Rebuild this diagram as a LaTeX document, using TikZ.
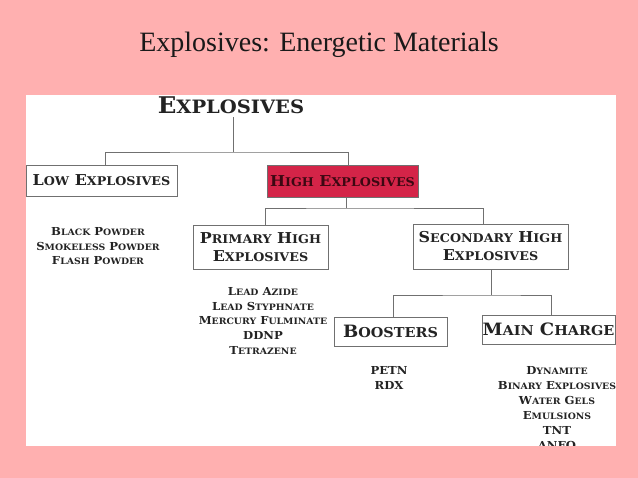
\documentclass[tikz,border=0pt]{standalone}
\usepackage{fontspec}
\setmainfont{Liberation Serif}
\newfontfamily\dvb{DejaVu Serif}[FakeStretch=1.06]
\definecolor{bgpink}{RGB}{255,176,176}
\definecolor{hired}{RGB}{212,36,72}
\definecolor{boxline}{RGB}{112,112,112}
\definecolor{ink}{RGB}{35,35,35}
\definecolor{hiink}{RGB}{60,8,18}
\makeatletter
\newcommand\smc[1]{{\fontsize{\dimexpr\f@size pt*4/5\relax}{0pt}\selectfont #1}}
\makeatother
\tikzset{
  cat/.style={draw=boxline, line width=0.9pt, inner sep=0pt, align=center, text=ink,
    font=\dvb\bfseries\fontsize{15}{18}\selectfont},
  conn/.style={draw=boxline, line width=0.9pt},
  lst/.style={anchor=north, inner sep=0pt, align=center, text=ink,
    font=\dvb\bfseries\fontsize{11}{14.8}\selectfont}
}
\begin{document}
\begin{tikzpicture}[x=1pt,y=-1pt]
\useasboundingbox (0,0) rectangle (638,478);
\fill[bgpink] (0,0) rectangle (638,478);
\node[font=\fontsize{28}{32}\selectfont, text=black!90, anchor=base] (title) at (319,52) {Explosives: Energetic Materials};
\fill[white] (26,95) rectangle (616,446);
\begin{scope}
\clip (26,95) rectangle (616,446);
\node[anchor=base, inner sep=0pt, text=ink, font=\dvb\bfseries\fontsize{23}{26}\selectfont] (expl) at (231,114) {E\smc{XPLOSIVES}};
\node[cat, minimum width=151pt, minimum height=31pt] (low) at (101.5,180.5) {L\smc{OW} E\smc{XPLOSIVES}};
\node[cat, fill=hired, text=hiink, minimum width=151pt, minimum height=32pt] (high) at (342.5,181) {H\smc{IGH} E\smc{XPLOSIVES}};
\node[cat, minimum width=135pt, minimum height=44pt] (prim) at (260.5,247) {P\smc{RIMARY} H\smc{IGH}\\E\smc{XPLOSIVES}};
\node[cat, minimum width=155pt, minimum height=45pt] (sec) at (490.5,246.5) {S\smc{ECONDARY} H\smc{IGH}\\E\smc{XPLOSIVES}};
\node[cat, font=\dvb\bfseries\fontsize{17}{20}\selectfont, minimum width=113pt, minimum height=29pt] (boost) at (390.5,331.5) {B\smc{OOSTERS}};
\node[cat, font=\dvb\bfseries\fontsize{17}{20}\selectfont, minimum width=133pt, minimum height=29pt] (main) at (548.5,329.5) {M\smc{AIN} C\smc{HARGE}};
\node[lst] (lowlist) at (98,227) {B\smc{LACK} P\smc{OWDER}\\S\smc{MOKELESS} P\smc{OWDER}\\F\smc{LASH} P\smc{OWDER}};
\node[lst] (primlist) at (263,287) {L\smc{EAD} A\smc{ZIDE}\\L\smc{EAD} S\smc{TYPHNATE}\\M\smc{ERCURY} F\smc{ULMINATE}\\DDNP\\T\smc{ETRAZENE}};
\node[lst] (boostlist) at (389,366) {PETN\\RDX};
\node[lst, font=\dvb\bfseries\fontsize{11}{15}\selectfont] (mainlist) at (557,366) {D\smc{YNAMITE}\\B\smc{INARY} E\smc{XPLOSIVES}\\W\smc{ATER} G\smc{ELS}\\E\smc{MULSIONS}\\TNT\\ANFO};
\coordinate (j1) at (233,152);
\draw[conn] ([yshift=-3pt]expl.south -| j1) -- (j1);
\draw[conn] ([xshift=3.5pt]low.north) |- (j1) -| ([xshift=5.5pt]high.north);
\coordinate (j2) at (346,208);
\draw[conn] (high.south -| j2) -- (j2);
\draw[conn] ([xshift=4.5pt]prim.north) |- (j2) -| ([xshift=-7.5pt]sec.north);
\coordinate (j3) at (491,295);
\draw[conn] (sec.south -| j3) -- (j3);
\draw[conn] ([xshift=2.5pt]boost.north) |- (j3) -| ([xshift=2.5pt]main.north);
\end{scope}
\end{tikzpicture}
\end{document}
